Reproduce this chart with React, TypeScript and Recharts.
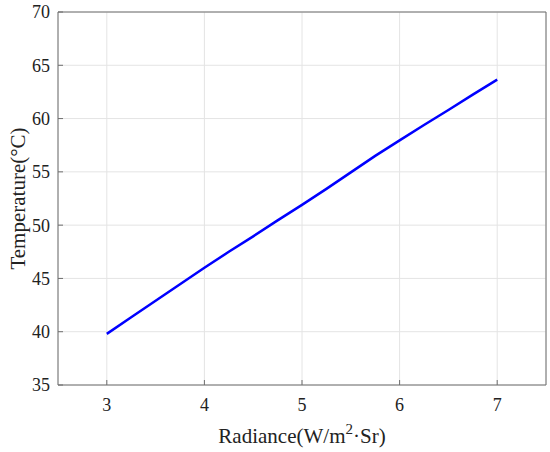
import { CartesianGrid, Label, Line, LineChart, XAxis, YAxis } from "recharts"

const radiance = [3, 3.25, 3.5, 3.75, 4, 4.25, 4.5, 4.75, 5, 5.25, 5.5, 5.75, 6, 6.25, 6.5, 6.75, 7]
const temperature = [39.8, 41.35, 42.9, 44.45, 46.0, 47.5, 48.95, 50.45, 51.9, 53.4, 54.95, 56.5, 57.95, 59.4, 60.8, 62.25, 63.65]

const xTicks = [3, 4, 5, 6, 7]
const yTicks = [35, 40, 45, 50, 55, 60, 65, 70]

const data = radiance.map((r, i) => ({ radiance: r, temperature: temperature[i] }))

const font = "Liberation Serif, Times New Roman, DejaVu Serif, serif"
const axisColor = "#6e6e6e"
const tickStyle = { fontSize: 18, fill: "#222", style: { fontFamily: font } }

function XLabel(props: any) {
    const { x, width } = props.viewBox
    return (
        <text x={x + width / 2} y={443} textAnchor="middle" style={{ fontFamily: font }} fontSize={21} fill="#222">
            Radiance(W/m
            <tspan fontSize={15} dy={-9}>2</tspan>
            <tspan dy={9}>·Sr)</tspan>
        </text>
    )
}

function YLabel(props: any) {
    const { y, height } = props.viewBox
    const cx = 25
    const cy = y + height / 2
    return (
        <text x={cx} y={cy} transform={`rotate(-90, ${cx}, ${cy})`} textAnchor="middle" style={{ fontFamily: font }} fontSize={21} fill="#222">
            Temperature(°C)
        </text>
    )
}

export default function App() {
    return (
        <div style={{ position: "absolute", left: 0, top: 0, width: 550, height: 452, background: "#fff", fontFamily: font }}>
            <LineChart width={550} height={452} data={data} margin={{ top: 0, right: 0, bottom: 0, left: 0 }} style={{ fontFamily: font }}>
                <CartesianGrid xAxisId="bottom" yAxisId="left" stroke="#e4e4e4" strokeWidth={1} />
                <XAxis
                    xAxisId="bottom"
                    dataKey="radiance"
                    type="number"
                    domain={[2.5, 7.5]}
                    ticks={xTicks}
                    height={67}
                    stroke={axisColor}
                    tickSize={-5}
                    tickMargin={18}
                    tick={tickStyle}
                >
                    <Label content={<XLabel />} />
                </XAxis>
                <XAxis
                    xAxisId="top"
                    orientation="top"
                    dataKey="radiance"
                    type="number"
                    domain={[2.5, 7.5]}
                    ticks={xTicks}
                    height={12}
                    stroke={axisColor}
                    tickSize={-5}
                    tick={false}
                />
                <YAxis
                    yAxisId="left"
                    type="number"
                    domain={[35, 70]}
                    ticks={yTicks}
                    width={58}
                    stroke={axisColor}
                    tickSize={-5}
                    tickMargin={13}
                    tick={tickStyle}
                >
                    <Label content={<YLabel />} />
                </YAxis>
                <YAxis
                    yAxisId="right"
                    orientation="right"
                    type="number"
                    domain={[35, 70]}
                    ticks={yTicks}
                    width={4}
                    stroke={axisColor}
                    tickSize={-5}
                    tick={false}
                />
                <Line
                    xAxisId="bottom"
                    yAxisId="left"
                    dataKey="temperature"
                    type="linear"
                    stroke="#0000ff"
                    strokeWidth={2.5}
                    dot={false}
                    isAnimationActive={false}
                />
            </LineChart>
        </div>
    )
}
